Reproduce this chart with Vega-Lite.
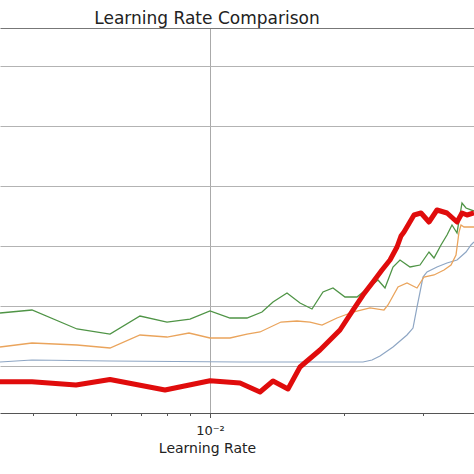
{
  "$schema": "https://vega.github.io/schema/vega-lite/v6.json",
  "width": 474,
  "height": 385,
  "autosize": {"type": "none"},
  "padding": {"top": 28, "left": 0, "right": 0, "bottom": 61},
  "background": "white",
  "config": {"view": {"stroke": null}, "font": "DejaVu Sans", "axis": {"titleFontWeight": "normal", "labelFontWeight": "normal"}},
  "title": {"text": "Learning Rate Comparison", "fontSize": 17, "font": "DejaVu Sans", "fontWeight": "normal", "color": "#222222", "baseline": "alphabetic", "offset": 6, "dy": 19, "dx": -30, "anchor": "middle"},
  "data": {"values": [
    {"series": "A", "lr": 0.003382, "score": 0.1067},
    {"series": "A", "lr": 0.003989, "score": 0.11},
    {"series": "A", "lr": 0.005968, "score": 0.1083},
    {"series": "A", "lr": 0.011675, "score": 0.1067},
    {"series": "A", "lr": 0.022031, "score": 0.1067},
    {"series": "A", "lr": 0.023079, "score": 0.11},
    {"series": "A", "lr": 0.024052, "score": 0.1167},
    {"series": "A", "lr": 0.025722, "score": 0.1317},
    {"series": "A", "lr": 0.02765, "score": 0.1517},
    {"series": "A", "lr": 0.02852, "score": 0.1633},
    {"series": "A", "lr": 0.029115, "score": 0.1983},
    {"series": "A", "lr": 0.02957, "score": 0.2233},
    {"series": "A", "lr": 0.030031, "score": 0.2483},
    {"series": "A", "lr": 0.030658, "score": 0.2567},
    {"series": "A", "lr": 0.032282, "score": 0.265},
    {"series": "A", "lr": 0.033993, "score": 0.2717},
    {"series": "A", "lr": 0.035794, "score": 0.2767},
    {"series": "A", "lr": 0.037496, "score": 0.29},
    {"series": "A", "lr": 0.038477, "score": 0.3017},
    {"series": "A", "lr": 0.039077, "score": 0.3067},

    {"series": "B", "lr": 0.003382, "score": 0.1317},
    {"series": "B", "lr": 0.003989, "score": 0.1383},
    {"series": "B", "lr": 0.005033, "score": 0.135},
    {"series": "B", "lr": 0.005968, "score": 0.13},
    {"series": "B", "lr": 0.006967, "score": 0.1517},
    {"series": "B", "lr": 0.008009, "score": 0.1483},
    {"series": "B", "lr": 0.008972, "score": 0.155},
    {"series": "B", "lr": 0.01, "score": 0.1467},
    {"series": "B", "lr": 0.011088, "score": 0.1467},
    {"series": "B", "lr": 0.012105, "score": 0.1533},
    {"series": "B", "lr": 0.012945, "score": 0.1567},
    {"series": "B", "lr": 0.014427, "score": 0.1733},
    {"series": "B", "lr": 0.01567, "score": 0.175},
    {"series": "B", "lr": 0.016757, "score": 0.1733},
    {"series": "B", "lr": 0.017828, "score": 0.1683},
    {"series": "B", "lr": 0.019264, "score": 0.18},
    {"series": "B", "lr": 0.020923, "score": 0.19},
    {"series": "B", "lr": 0.022842, "score": 0.1967},
    {"series": "B", "lr": 0.024554, "score": 0.1933},
    {"series": "B", "lr": 0.025067, "score": 0.2017},
    {"series": "B", "lr": 0.026395, "score": 0.2317},
    {"series": "B", "lr": 0.02765, "score": 0.2383},
    {"series": "B", "lr": 0.029115, "score": 0.23},
    {"series": "B", "lr": 0.030187, "score": 0.2483},
    {"series": "B", "lr": 0.031786, "score": 0.2517},
    {"series": "B", "lr": 0.03347, "score": 0.26},
    {"series": "B", "lr": 0.034702, "score": 0.2683},
    {"series": "B", "lr": 0.035609, "score": 0.285},
    {"series": "B", "lr": 0.036165, "score": 0.3233},
    {"series": "B", "lr": 0.036541, "score": 0.335},
    {"series": "B", "lr": 0.037111, "score": 0.3317},
    {"series": "B", "lr": 0.039077, "score": 0.3317},

    {"series": "C", "lr": 0.003382, "score": 0.1883},
    {"series": "C", "lr": 0.003989, "score": 0.1933},
    {"series": "C", "lr": 0.005033, "score": 0.1617},
    {"series": "C", "lr": 0.005968, "score": 0.1533},
    {"series": "C", "lr": 0.006967, "score": 0.1833},
    {"series": "C", "lr": 0.008009, "score": 0.1733},
    {"series": "C", "lr": 0.009019, "score": 0.1783},
    {"series": "C", "lr": 0.01, "score": 0.1917},
    {"series": "C", "lr": 0.011088, "score": 0.18},
    {"series": "C", "lr": 0.012105, "score": 0.18},
    {"series": "C", "lr": 0.01308, "score": 0.19},
    {"series": "C", "lr": 0.013844, "score": 0.2067},
    {"series": "C", "lr": 0.014881, "score": 0.2217},
    {"series": "C", "lr": 0.015915, "score": 0.205},
    {"series": "C", "lr": 0.016931, "score": 0.195},
    {"series": "C", "lr": 0.01792, "score": 0.2233},
    {"series": "C", "lr": 0.01887, "score": 0.23},
    {"series": "C", "lr": 0.020076, "score": 0.215},
    {"series": "C", "lr": 0.021359, "score": 0.215},
    {"series": "C", "lr": 0.023805, "score": 0.2433},
    {"series": "C", "lr": 0.024681, "score": 0.23},
    {"series": "C", "lr": 0.025722, "score": 0.265},
    {"series": "C", "lr": 0.026669, "score": 0.2767},
    {"series": "C", "lr": 0.028082, "score": 0.265},
    {"series": "C", "lr": 0.02957, "score": 0.2683},
    {"series": "C", "lr": 0.030976, "score": 0.29},
    {"series": "C", "lr": 0.031786, "score": 0.28},
    {"series": "C", "lr": 0.032956, "score": 0.3017},
    {"series": "C", "lr": 0.033993, "score": 0.3183},
    {"series": "C", "lr": 0.034882, "score": 0.335},
    {"series": "C", "lr": 0.035794, "score": 0.3217},
    {"series": "C", "lr": 0.03673, "score": 0.3717},
    {"series": "C", "lr": 0.037496, "score": 0.3633},
    {"series": "C", "lr": 0.039077, "score": 0.3583},

    {"series": "D", "lr": 0.003382, "score": 0.0738},
    {"series": "D", "lr": 0.003989, "score": 0.0738},
    {"series": "D", "lr": 0.005007, "score": 0.0683},
    {"series": "D", "lr": 0.005968, "score": 0.0775},
    {"series": "D", "lr": 0.007927, "score": 0.06},
    {"series": "D", "lr": 0.01, "score": 0.0755},
    {"series": "D", "lr": 0.011675, "score": 0.0717},
    {"series": "D", "lr": 0.012945, "score": 0.0567},
    {"series": "D", "lr": 0.013844, "score": 0.075},
    {"series": "D", "lr": 0.014958, "score": 0.0617},
    {"series": "D", "lr": 0.015915, "score": 0.0983},
    {"series": "D", "lr": 0.017645, "score": 0.1267},
    {"series": "D", "lr": 0.019564, "score": 0.16},
    {"series": "D", "lr": 0.020923, "score": 0.1933},
    {"series": "D", "lr": 0.022031, "score": 0.2183},
    {"series": "D", "lr": 0.023199, "score": 0.24},
    {"series": "D", "lr": 0.024302, "score": 0.26},
    {"series": "D", "lr": 0.025327, "score": 0.2767},
    {"series": "D", "lr": 0.026259, "score": 0.2983},
    {"series": "D", "lr": 0.026807, "score": 0.3167},
    {"series": "D", "lr": 0.027225, "score": 0.3233},
    {"series": "D", "lr": 0.028668, "score": 0.3517},
    {"series": "D", "lr": 0.029723, "score": 0.355},
    {"series": "D", "lr": 0.030976, "score": 0.34},
    {"series": "D", "lr": 0.032282, "score": 0.36},
    {"series": "D", "lr": 0.033993, "score": 0.355},
    {"series": "D", "lr": 0.035794, "score": 0.34},
    {"series": "D", "lr": 0.03673, "score": 0.355},
    {"series": "D", "lr": 0.03769, "score": 0.3517},
    {"series": "D", "lr": 0.039077, "score": 0.355}
  ]},
  "encoding": {
    "y": {
      "field": "score", "type": "quantitative",
      "scale": {"domain": [0.02167, 0.66333], "nice": false, "zero": false},
      "axis": {"title": null, "labels": false, "ticks": false, "domain": false,
               "values": [0.1, 0.2, 0.3, 0.4, 0.5, 0.6], "grid": true, "gridColor": "#b3b3b3", "gridWidth": 1.2}
    }
  },
  "layer": [
    {
      "encoding": {
        "x": {
          "field": "lr", "type": "quantitative",
          "scale": {"type": "log", "domain": [0.003382, 0.039077], "nice": false},
          "axis": {
            "orient": "bottom",
            "title": "Learning Rate", "titleFontSize": 14, "titleFontWeight": "normal", "titleColor": "#222222", "titleFont": "DejaVu Sans",
            "titleX": 207, "titleY": 39, "titleBaseline": "alphabetic", "titleAnchor": null,
            "values": [0.004, 0.005, 0.006, 0.007, 0.008, 0.009, 0.01, 0.02, 0.03],
            "labelExpr": "abs(datum.value - 0.01) < 1e-9 ? '10⁻²' : ''",
            "labelFontSize": 13, "labelColor": "#222222", "labelFont": "DejaVu Sans", "labelFontWeight": "normal",
            "labelBaseline": "alphabetic", "labelPadding": 17, "labelOverlap": false, "labelFlush": false,
            "ticks": true,
            "tickSize": {"condition": {"test": "abs(datum.value - 0.01) < 1e-9", "value": 4.5}, "value": 2.5},
            "tickColor": "#555555", "tickWidth": 1,
            "domainColor": "#555555", "domainWidth": 1.2,
            "grid": true, "gridColor": "#aaaaaa", "gridWidth": 1,
            "gridOpacity": {"condition": {"test": "abs(datum.value - 0.01) < 1e-9", "value": 1}, "value": 0}
          }
        }
      },
      "layer": [
        {"transform": [{"filter": "datum.series === 'A'"}], "mark": {"type": "line", "color": "#8ea6c4", "strokeWidth": 1.2}},
        {"transform": [{"filter": "datum.series === 'B'"}], "mark": {"type": "line", "color": "#eaa45c", "strokeWidth": 1.3}},
        {"transform": [{"filter": "datum.series === 'C'"}], "mark": {"type": "line", "color": "#4f9446", "strokeWidth": 1.3}},
        {"transform": [{"filter": "datum.series === 'D'"}], "mark": {"type": "line", "color": "#e00c0c", "strokeWidth": 5, "strokeJoin": "round"}}
      ]
    },
    {
      "transform": [{"filter": "datum.series === 'D'"}],
      "mark": {"type": "line", "opacity": 0},
      "encoding": {
        "x": {"field": "lr", "type": "quantitative",
              "scale": {"type": "log", "domain": [0.003382, 0.039077], "nice": false},
              "axis": {"orient": "top", "title": null, "labels": false, "ticks": false, "grid": false, "domainColor": "#777777", "domainWidth": 1.2}}
      }
    }
  ],
  "resolve": {"axis": {"x": "independent"}}
}
